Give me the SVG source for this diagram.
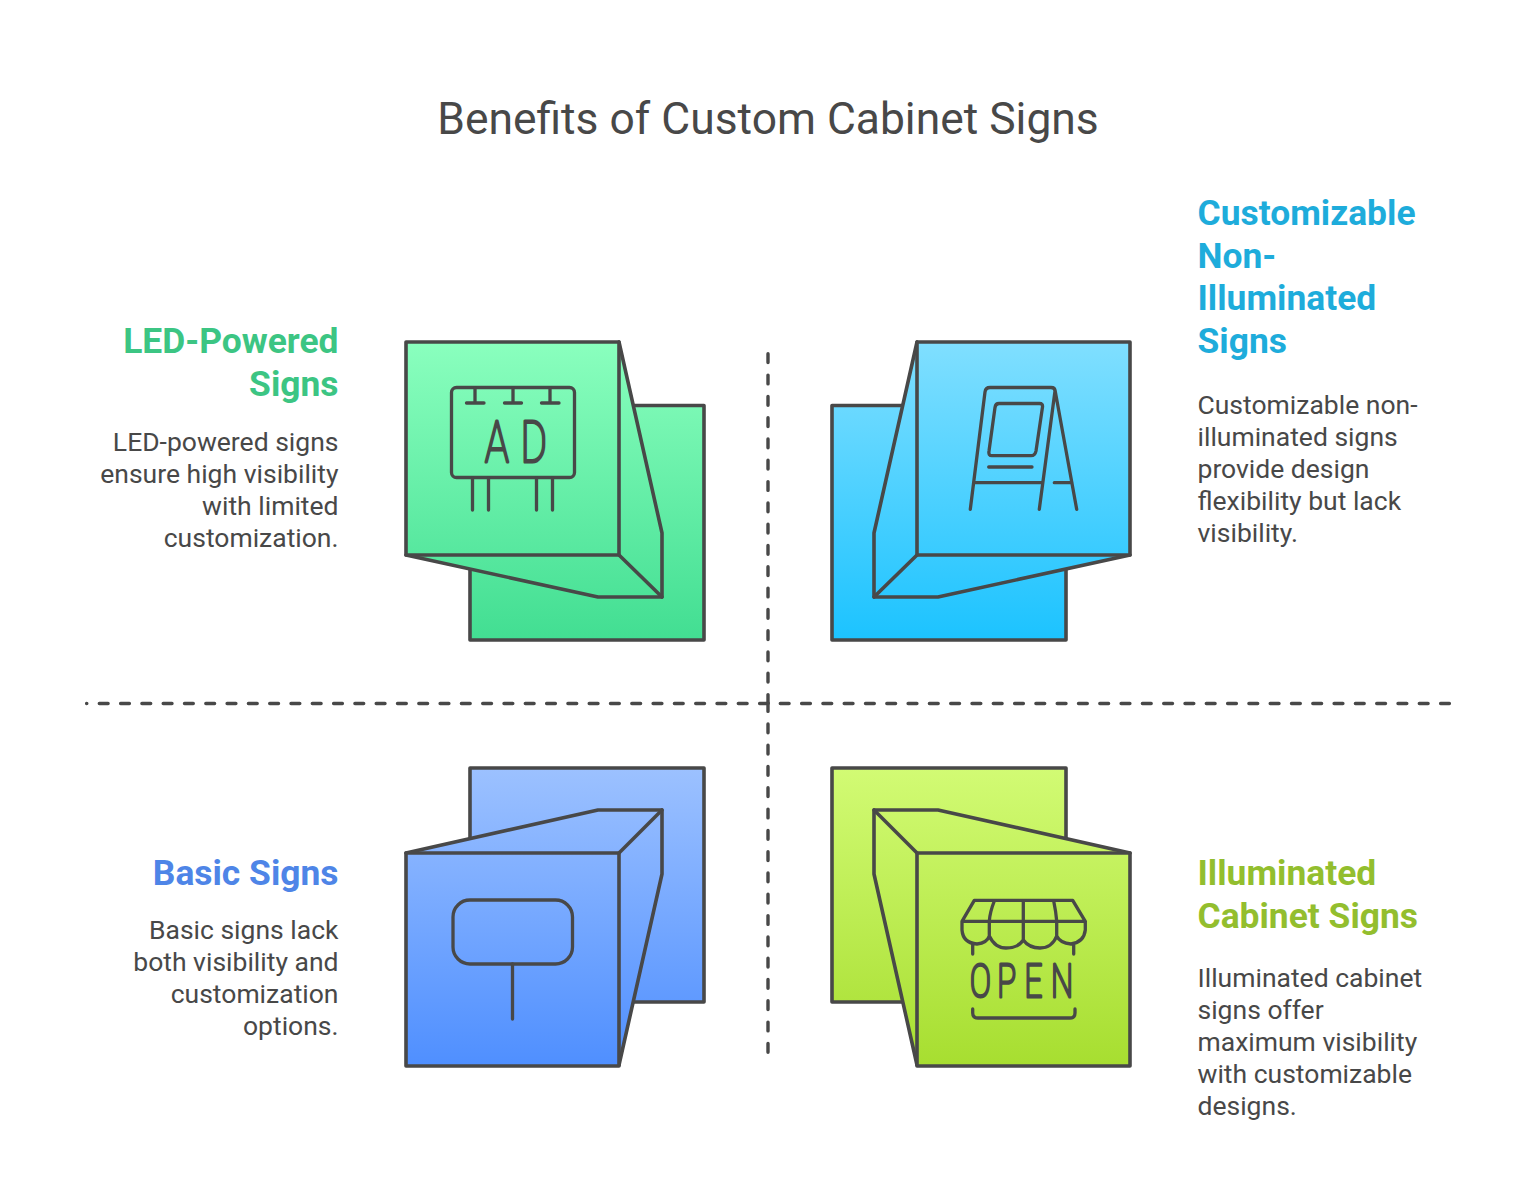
<svg xmlns="http://www.w3.org/2000/svg" width="1536" height="1195" viewBox="0 0 1536 1195">
<style>
text{font-family:Roboto,"Liberation Sans",sans-serif}
.title{font-size:44.4px;fill:#484848}
.head{font-size:35.4px;font-weight:700;transform:translateY(-.6px)}
.body{font-size:26.5px;fill:#484848;transform:translateY(-.6px)}
.end{text-anchor:end}
.shape{stroke:#484848;stroke-width:3.6;stroke-linejoin:round;stroke-linecap:round}
.icon{fill:none;stroke:#484848;stroke-width:3.3;stroke-linejoin:round;stroke-linecap:round}
.letters{fill:#484848;stroke:#484848;stroke-width:3.2;stroke-linejoin:round;font-weight:100}
.dash{fill:none;stroke:#484848;stroke-width:3.4;stroke-linecap:round;stroke-dasharray:8.8 12.5}
</style>
<defs>
<linearGradient id="gGreen" gradientUnits="userSpaceOnUse" x1="0" y1="342" x2="0" y2="640"><stop offset="0" stop-color="#8AFFBE"/><stop offset="1" stop-color="#42DE92"/></linearGradient>
<linearGradient id="gCyan" gradientUnits="userSpaceOnUse" x1="0" y1="342" x2="0" y2="640"><stop offset="0" stop-color="#80DFFF"/><stop offset="1" stop-color="#1CC3FF"/></linearGradient>
<linearGradient id="gBlue" gradientUnits="userSpaceOnUse" x1="0" y1="768" x2="0" y2="1066"><stop offset="0" stop-color="#9CC1FF"/><stop offset="1" stop-color="#4F8FFF"/></linearGradient>
<linearGradient id="gLime" gradientUnits="userSpaceOnUse" x1="0" y1="768" x2="0" y2="1066"><stop offset="0" stop-color="#D2FB74"/><stop offset="1" stop-color="#A7DE30"/></linearGradient>
</defs>
<rect width="1536" height="1195" fill="#fff"/>
<text class="title" x="768" y="134" text-anchor="middle">Benefits of Custom Cabinet Signs</text>
<g id="connectors">
<path class="dash" d="M768 703.500H86.600" stroke-dashoffset="0.4"/>
<path class="dash" d="M768 703.500H1451" stroke-dashoffset="9"/>
<path class="dash" d="M768 703V353" stroke-dashoffset="0.4"/>
<path class="dash" d="M768 703V1055" stroke-dashoffset="0.4"/>
</g>
<g id="node-led">
<g class="shape" fill="url(#gGreen)">
<rect x="470" y="405.500" width="234" height="234.500"/>
<path d="M619 342L662 533V597H598L406 555Z"/>
<path d="M619 555L662 597"/>
<rect x="406" y="342" width="213" height="213"/>
</g>
<rect class="icon" x="451.500" y="387.500" width="123" height="90" rx="5"/>
<path class="icon" d="M475 388V403M466.500 403H484M513 388V403M504.500 403H521.500M550 388V403M541.500 403H559M472.500 478V510M488.500 478V510M536.500 478V510M552.500 478V510"/>
<text class="letters" font-size="57" transform="translate(485 462) scale(.7 1)" x="0 51">AD</text>
<text class="head end" fill="#3CC583" x="338.500" y="354">LED-Powered</text>
<text class="head end" fill="#3CC583" x="338.500" y="397">Signs</text>
<text class="body end" x="338.500" y="452">LED-powered signs</text>
<text class="body end" x="338.500" y="484">ensure high visibility</text>
<text class="body end" x="338.500" y="516">with limited</text>
<text class="body end" x="338.500" y="548">customization.</text>
</g>
<g id="node-customizable">
<g class="shape" fill="url(#gCyan)">
<rect x="832" y="405.500" width="234" height="234.500"/>
<path d="M917 342L874 533V597H938L1130 555Z"/>
<path d="M917 555L874 597"/>
<rect x="917" y="342" width="213" height="213"/>
</g>
<path class="icon" d="M970.300 509.300L985 392Q985.600 387.500 990 387.500H1051Q1055 387.500 1055 391L1039.300 509.300M1055 390L1076.700 509.300M974.300 482.700H1042M1054.300 482.700H1072M988.700 467H1032M999 403.500H1039.500Q1043 403.500 1042.500 407L1036 451Q1035 455.700 1031 455.700H992Q988.200 455.700 989 451L995 407.500Q995.500 403.500 999 403.500Z"/>
<text class="head" fill="#1EACDB" x="1197.500" y="226">Customizable</text>
<text class="head" fill="#1EACDB" x="1197.500" y="268.500">Non-</text>
<text class="head" fill="#1EACDB" x="1197.500" y="311">Illuminated</text>
<text class="head" fill="#1EACDB" x="1197.500" y="354">Signs</text>
<text class="body" x="1197.500" y="415">Customizable non-</text>
<text class="body" x="1197.500" y="447">illuminated signs</text>
<text class="body" x="1197.500" y="479">provide design</text>
<text class="body" x="1197.500" y="511">flexibility but lack</text>
<text class="body" x="1197.500" y="543">visibility.</text>
</g>
<g id="node-basic">
<g class="shape" fill="url(#gBlue)">
<rect x="470" y="768" width="234" height="234"/>
<path d="M619 1065L662 874V810H598L406 853Z"/>
<path d="M619 853L662 810"/>
<rect x="406" y="853" width="213" height="213"/>
</g>
<rect class="icon" x="453" y="900" width="119.500" height="64" rx="17"/>
<path class="icon" d="M512.500 964V1019"/>
<text class="head end" fill="#4E85E7" x="338.500" y="886">Basic Signs</text>
<text class="body end" x="338.500" y="940">Basic signs lack</text>
<text class="body end" x="338.500" y="972">both visibility and</text>
<text class="body end" x="338.500" y="1004">customization</text>
<text class="body end" x="338.500" y="1036">options.</text>
</g>
<g id="node-illuminated">
<g class="shape" fill="url(#gLime)">
<rect x="832" y="768" width="234" height="234"/>
<path d="M917 1065L874 874V810H938L1130 853Z"/>
<path d="M917 853L874 810"/>
<rect x="917" y="853" width="213" height="213"/>
</g>
<path class="icon" d="M962 921.300L974.300 900.300H1072.700L1085.300 921.300ZM962 921.300V930Q963 943 977 944Q987 943 989.300 936Q995 948 1006 948Q1018 948 1023.300 940Q1029 948 1040 948Q1052 948 1056.700 936Q1060 943 1071 944Q1084 942 1085.300 930V921.300M989.300 936V921Q990 912 994.300 901M1023.300 901V940M1056.700 936V921Q1056 912 1053.700 901M972.700 944V954M1073.700 944V954M972.700 1009V1013Q972.700 1018 978 1018H1070Q1075 1018 1075 1013V1009"/>
<text class="letters" font-size="46" transform="translate(970 997) scale(.68 1)" x="0 40 80 119">OPEN</text>
<text class="head" fill="#93BE2E" x="1197.500" y="886">Illuminated</text>
<text class="head" fill="#93BE2E" x="1197.500" y="929">Cabinet Signs</text>
<text class="body" x="1197.500" y="988">Illuminated cabinet</text>
<text class="body" x="1197.500" y="1020">signs offer</text>
<text class="body" x="1197.500" y="1052">maximum visibility</text>
<text class="body" x="1197.500" y="1084">with customizable</text>
<text class="body" x="1197.500" y="1116">designs.</text>
</g>
</svg>
